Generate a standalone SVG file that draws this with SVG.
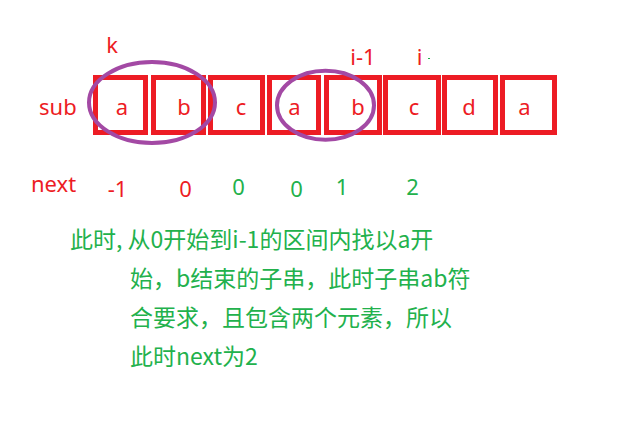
<svg xmlns="http://www.w3.org/2000/svg" width="618" height="427" viewBox="0 0 618 427">
<style>
.box{fill:none;stroke:#ED1C24;stroke-width:5}
.ring{fill:none;stroke:#A349A4;stroke-width:4}
.lat{font-family:"Noto Sans","Open Sans","Liberation Sans",sans-serif;font-size:22px}
.r{fill:#ED1C24}
.g{fill:#22B14C}
.cjk{font-family:"Noto Sans CJK SC","Noto Sans",sans-serif;font-size:23px;fill:#22B14C}
.m{text-anchor:middle}
</style>
<rect width="618" height="427" fill="#fff"/>
<g id="labels">
<text class="lat r" x="112" y="53" font-size="22" text-anchor="middle">k</text>
<text class="lat r m" x="363" y="65">i-1</text>
<text class="lat r m" x="419.5" y="65">i</text>
<rect x="428" y="58" width="2" height="1" fill="#22B14C"/>
<text class="lat r" x="39" y="115">sub</text>
<text class="lat r" x="31" y="192">next</text>
</g>
<g id="cell0"><rect class="box" x="95.5" y="77.5" width="50" height="55"/><text class="lat r m" x="122" y="115">a</text></g>
<g id="cell1"><rect class="box" x="153.5" y="77.5" width="50" height="55"/><text class="lat r m" x="184" y="115">b</text></g>
<g id="cell2"><rect class="box" x="210.5" y="77.5" width="52" height="55"/><text class="lat r m" x="241" y="115">c</text></g>
<g id="cell3"><rect class="box" x="269.5" y="77.5" width="49" height="55"/><text class="lat r m" x="294.5" y="115">a</text></g>
<g id="cell4"><rect class="box" x="326.5" y="77.5" width="53" height="55"/><text class="lat r m" x="358" y="115">b</text></g>
<g id="cell5"><rect class="box" x="385.5" y="77.5" width="53" height="55"/><text class="lat r m" x="414" y="115">c</text></g>
<g id="cell6"><rect class="box" x="444.5" y="77.5" width="51" height="55"/><text class="lat r m" x="469" y="115">d</text></g>
<g id="cell7"><rect class="box" x="502.5" y="77.5" width="52" height="55"/><text class="lat r m" x="524.5" y="115">a</text></g>
<g id="rings">
<ellipse class="ring" cx="152" cy="102.5" rx="63" ry="40.5"/>
<ellipse class="ring" cx="325.5" cy="105.3" rx="48.5" ry="34.5"/>
</g>
<g id="next">
<text class="lat r m" x="117.5" y="197">-1</text>
<text class="lat r m" x="185.5" y="197">0</text>
<text class="lat g m" x="238.5" y="195">0</text>
<text class="lat g m" x="296.5" y="197">0</text>
<text class="lat g m" x="342" y="195">1</text>
<text class="lat g m" x="412.5" y="195">2</text>
</g>
<g id="note">
<text class="cjk" x="70" y="248">此时, 从0开始到i-1的区间内找以a开</text>
<text class="cjk" x="130" y="287">始，b结束的子串，此时子串ab符</text>
<text class="cjk" x="130" y="326">合要求，且包含两个元素，所以</text>
<text class="cjk" x="130" y="365">此时next为2</text>
</g>
</svg>
